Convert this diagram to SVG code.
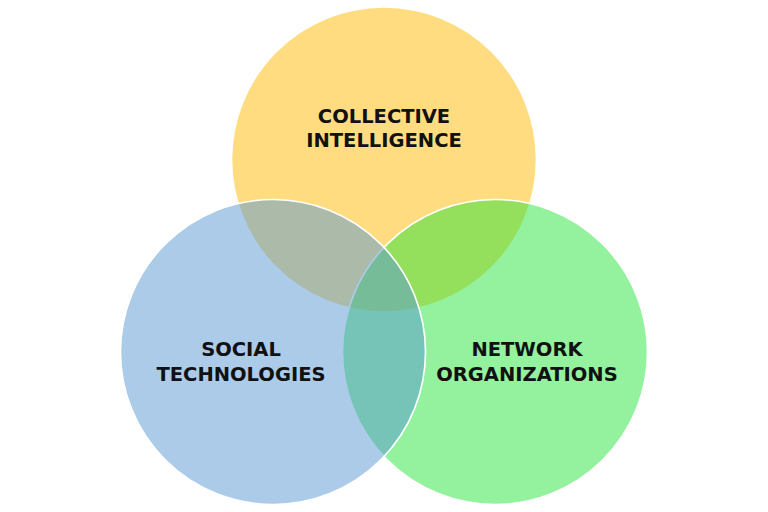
<svg xmlns="http://www.w3.org/2000/svg" width="768" height="512" viewBox="0 0 768 512">
<style>
.c{stroke:#ffffff;stroke-width:1.6}
.lbl{font-family:"DejaVu Sans","Liberation Sans",sans-serif;font-weight:bold;font-size:19.5px;fill:#111111;text-anchor:middle}
</style>
<rect width="768" height="512" fill="#ffffff"/>
<g id="collective-intelligence">
<circle class="c" cx="384" cy="159.5" r="152.5" fill="#FEDC7F"/>
</g>
<g id="network-organizations">
<circle class="c" cx="495" cy="352" r="152.5" fill="#29E33B" fill-opacity="0.5"/>
</g>
<g id="social-technologies">
<circle class="c" cx="273" cy="352" r="152.5" fill="#5797D3" fill-opacity="0.5"/>
</g>
<g id="labels">
<text class="lbl" x="384" y="123">COLLECTIVE</text>
<text class="lbl" x="384" y="147">INTELLIGENCE</text>
<text class="lbl" x="241" y="356">SOCIAL</text>
<text class="lbl" x="241" y="381">TECHNOLOGIES</text>
<text class="lbl" x="527" y="356">NETWORK</text>
<text class="lbl" x="527" y="381">ORGANIZATIONS</text>
</g>
<g id="connectors"></g>
</svg>
